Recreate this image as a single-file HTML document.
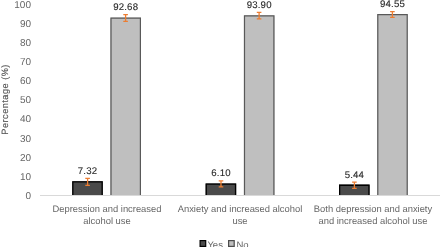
<!DOCTYPE html>
<html><head><meta charset="utf-8">
<style>
html,body{margin:0;padding:0;background:#fff;width:440px;height:247px;overflow:hidden}
svg{display:block;will-change:transform}
text{font-family:"Liberation Sans",sans-serif;text-rendering:geometricPrecision}
</style></head>
<body>
<svg width="440" height="247" viewBox="0 0 440 247">
<g fill="#666" font-size="10" text-anchor="end">
<text x="31.0" y="7.50">100</text>
<text x="31.0" y="26.65">90</text>
<text x="31.0" y="45.81">80</text>
<text x="31.0" y="64.96">70</text>
<text x="31.0" y="84.12">60</text>
<text x="31.0" y="103.27">50</text>
<text x="31.0" y="122.43">40</text>
<text x="31.0" y="141.58">30</text>
<text x="31.0" y="160.74">20</text>
<text x="31.0" y="179.89">10</text>
<text x="31.0" y="199.05">0</text>
</g>
<text transform="translate(8.2,99.4) rotate(-90)" fill="#555" stroke="#555" stroke-width="0.15" font-size="9.2" letter-spacing="0.48" text-anchor="middle">Percentage (%)</text>
<line x1="40" y1="195.5" x2="440" y2="195.5" stroke="#d9d9d9" stroke-width="1"/>
<rect x="72.20" y="181.20" width="30.60" height="13.80" fill="#4a4a4a"/><path d="M72.85 195.0V181.85H102.15V195.0" fill="none" stroke="#000" stroke-width="1.3"/>
<rect x="110.40" y="17.60" width="30.60" height="177.40" fill="#bfbfbf"/><path d="M111.00 195.0V18.20H140.40V195.0" fill="none" stroke="#595959" stroke-width="1.2"/>
<rect x="205.60" y="183.40" width="30.60" height="11.60" fill="#4a4a4a"/><path d="M206.25 195.0V184.05H235.55V195.0" fill="none" stroke="#000" stroke-width="1.3"/>
<rect x="243.90" y="15.35" width="30.60" height="179.65" fill="#bfbfbf"/><path d="M244.50 195.0V15.95H273.90V195.0" fill="none" stroke="#595959" stroke-width="1.2"/>
<rect x="339.00" y="184.60" width="30.60" height="10.40" fill="#4a4a4a"/><path d="M339.65 195.0V185.25H368.95V195.0" fill="none" stroke="#000" stroke-width="1.3"/>
<rect x="377.20" y="14.10" width="30.60" height="180.90" fill="#bfbfbf"/><path d="M377.80 195.0V14.70H407.20V195.0" fill="none" stroke="#595959" stroke-width="1.2"/>
<g stroke="#ED7D31" stroke-width="1.3" fill="none">
<path d="M87.60 178.4V185.3M85.30 178.4H89.90M85.30 185.3H89.90"/>
<path d="M221.00 180.9V186.8M218.70 180.9H223.30M218.70 186.8H223.30"/>
<path d="M354.40 182.1V188.3M352.10 182.1H356.70M352.10 188.3H356.70"/>
<path d="M125.60 14.6V21.3M123.30 14.6H127.90M123.30 21.3H127.90"/>
<path d="M259.10 12.4V18.8M256.80 12.4H261.40M256.80 18.8H261.40"/>
<path d="M392.40 11.6V17.35M390.10 11.6H394.70M390.10 17.35H394.70"/>
</g>
<g fill="#262626" stroke="#262626" stroke-width="0.1" font-size="9.65" letter-spacing="0.2" text-anchor="middle">
<text x="87.60" y="174.1">7.32</text>
<text x="125.70" y="10.2">92.68</text>
<text x="221.00" y="176.3">6.10</text>
<text x="259.20" y="7.8">93.90</text>
<text x="354.40" y="177.7">5.44</text>
<text x="392.50" y="6.8">94.55</text>
</g>
<g fill="#666" font-size="9.4" text-anchor="middle">
<text x="107" y="212.2">Depression and increased</text>
<text x="107" y="224.3">alcohol use</text>
<text x="240" y="212.2">Anxiety and increased alcohol</text>
<text x="240" y="224.3">use</text>
<text x="373" y="212.2">Both depression and anxiety</text>
<text x="373" y="224.3">and increased alcohol use</text>
</g>
<rect x="200.1" y="240.6" width="5.6" height="5.8" fill="#4a4a4a" stroke="#000" stroke-width="1.2"/>
<text x="207.4" y="247.6" fill="#666" font-size="9.5">Yes</text>
<rect x="228.6" y="240.6" width="5.6" height="5.8" fill="#bfbfbf" stroke="#4d4d4d" stroke-width="1.2"/>
<text x="236.4" y="247.6" fill="#666" font-size="9.5">No</text>
</svg>
</body></html>
